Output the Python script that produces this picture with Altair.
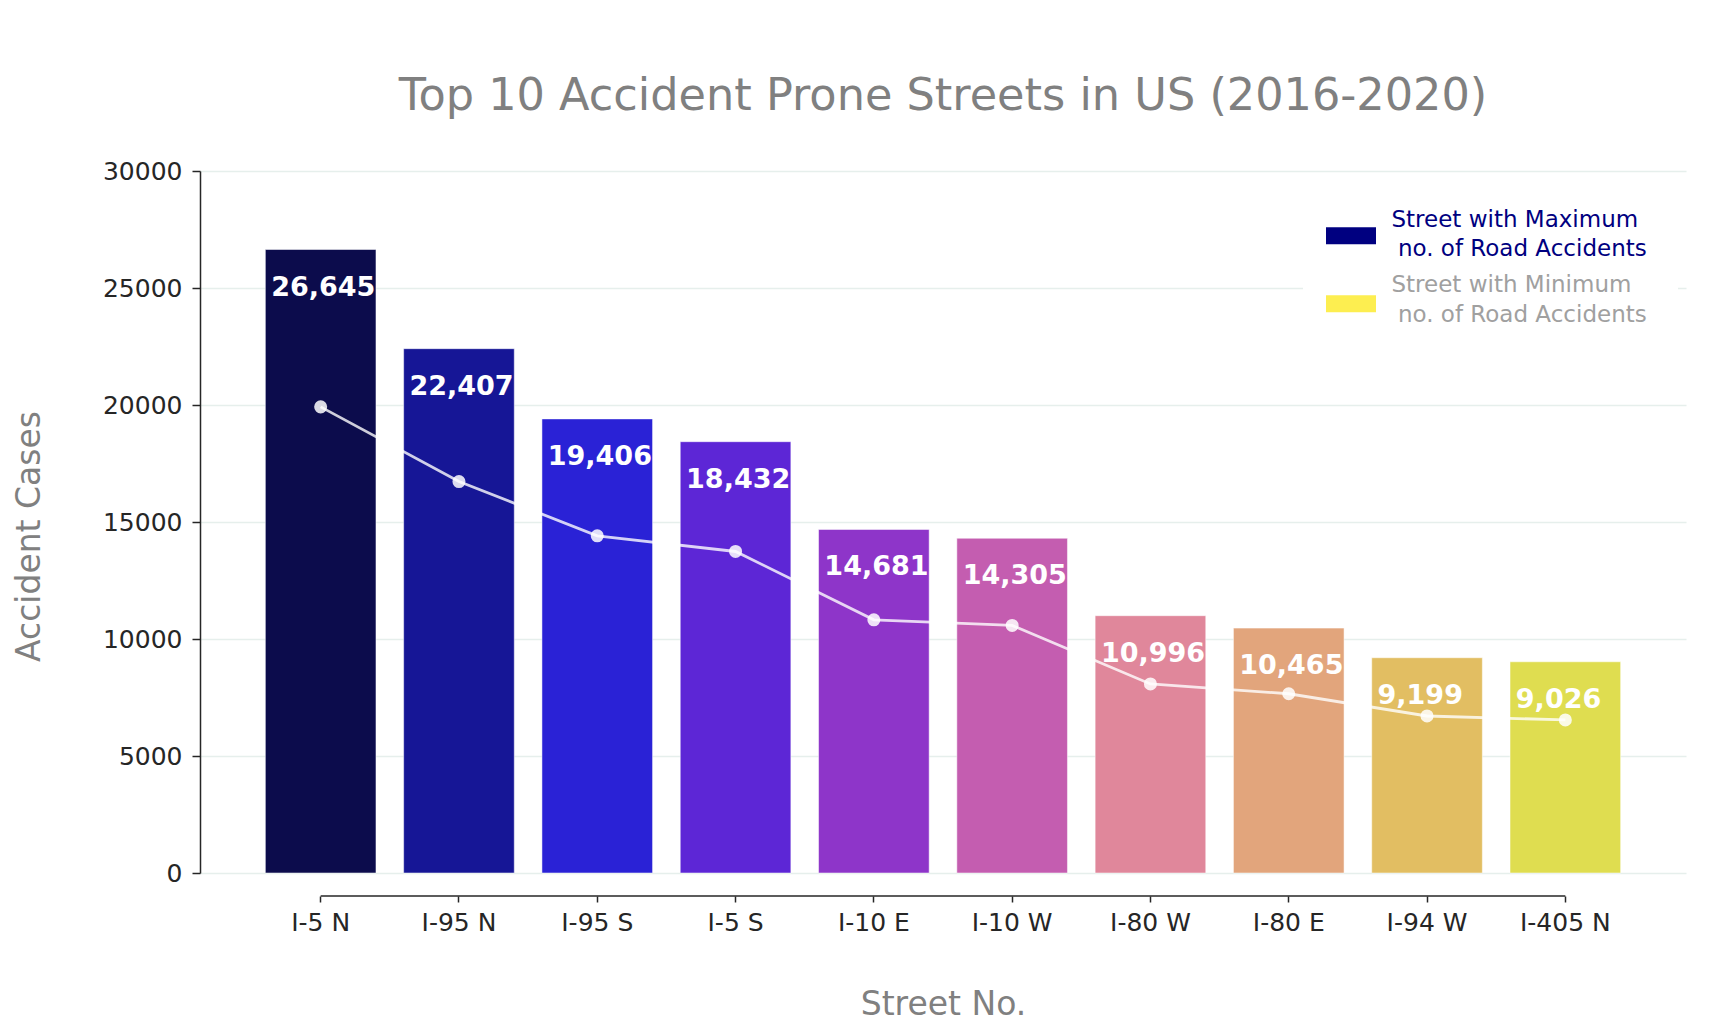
import altair as alt
import pandas as pd

# ---- data ----
streets = ["I-5 N", "I-95 N", "I-95 S", "I-5 S", "I-10 E",
           "I-10 W", "I-80 W", "I-80 E", "I-94 W", "I-405 N"]
cases = [26645, 22407, 19406, 18432, 14681, 14305, 10996, 10465, 9199, 9026]
trend = [19920, 16730, 14410, 13740, 10820, 10580, 8080, 7660, 6710, 6540]
bar_colors = ["#0c0c4c", "#161696", "#2a22d6", "#5d26d6", "#8e35c9",
              "#c45db0", "#e0879b", "#e2a57c", "#e2be62", "#dfdd50"]
y_ticks = [0, 5000, 10000, 15000, 20000, 25000, 30000]
legend_line1 = ["Street with Maximum", "Street with Minimum"]
legend_line2 = ["no. of Road Accidents", "no. of Road Accidents"]
legend_colors = ["#000080", "#fdee50"]
legend_text_colors = ["#000080", "#a0a0a0"]

df = pd.DataFrame({"street": streets, "cases": cases, "trend": trend,
                   "color": bar_colors})
df["label"] = [f"{v:,}" for v in cases]

W, H = 1486, 702
FONT = "DejaVu Sans"
DARK = "#262626"

xscale = alt.Scale(domain=streets, paddingInner=0.2, paddingOuter=0.4725)
xaxis = alt.Axis(title="Street No.", titleFontSize=33, titleColor="gray",
                 titleFont=FONT, titleFontWeight="normal",
                 titleBaseline="alphabetic", titleY=118, titleX=W / 2,
                 labelAngle=0, labelFontSize=25, labelColor=DARK, labelFont=FONT,
                 labelBaseline="alphabetic", labelPadding=28,
                 tickSize=6, tickColor=DARK, tickWidth=1.5,
                 domain=False, grid=False, offset=23)
yscale = alt.Scale(domain=[0, 30000], nice=False)
yaxis = alt.Axis(values=y_ticks, format="d", title="Accident Cases",
                 titleFontSize=33, titleColor="gray", titleFont=FONT,
                 titleFontWeight="normal", titleAngle=270,
                 titleBaseline="alphabetic", titleAlign="center",
                 titleX=-161, titleY=365,
                 labelFontSize=25, labelColor=DARK, labelFont=FONT, labelPadding=10,
                 tickSize=8, tickColor=DARK, tickWidth=1.5,
                 domainColor=DARK, domainWidth=1.5,
                 grid=True, gridColor="#e6efec", gridWidth=1.5)

X = alt.X("street:N", scale=xscale, axis=xaxis)
base = alt.Chart(df)

bars = base.mark_bar(stroke="white", strokeWidth=1, strokeOpacity=0.5).encode(
    x=X,
    y=alt.Y("cases:Q", scale=yscale, axis=yaxis),
    color=alt.Color("color:N", scale=None),
)
line = base.mark_line(color="white", opacity=0.8, strokeWidth=2.8).encode(
    x=X, y=alt.Y("trend:Q", scale=yscale, axis=yaxis))
pts = base.mark_circle(color="white", opacity=0.85, size=170).encode(
    x=X, y=alt.Y("trend:Q", scale=yscale, axis=yaxis))
labels = base.mark_text(align="left", baseline="alphabetic", dx=-49.5, dy=46,
                        color="white", fontWeight="bold", fontSize=27,
                        font=FONT).encode(
    x=X, y=alt.Y("cases:Q", scale=yscale, axis=yaxis), text="label:N")

spine = alt.Chart(pd.DataFrame({"a": [streets[0]], "b": [streets[-1]]})).mark_rule(
    color=DARK, strokeWidth=1.5).encode(
    x=alt.X("a:N", scale=xscale, axis=xaxis), x2="b:N", y=alt.value(H + 23))

# ---- legend (drawn in the upper-right corner of the plot) ----
one = pd.DataFrame({"k": [0]})
legend_layers = [
    alt.Chart(one).mark_rect(color="white").encode(
        x=alt.value(1103), x2=alt.value(1478), y=alt.value(15), y2=alt.value(162))
]
for i in range(2):
    off = i * 68
    legend_layers.append(
        alt.Chart(one).mark_rect(color=legend_colors[i]).encode(
            x=alt.value(1126), x2=alt.value(1176),
            y=alt.value(56.3 + off), y2=alt.value(73.3 + off)))
    legend_layers.append(
        alt.Chart(one).mark_text(align="left", baseline="alphabetic", fontSize=23,
                                 font=FONT, color=legend_text_colors[i]).encode(
            x=alt.value(1191.5), y=alt.value(55.7 + i * 65),
            text=alt.value(legend_line1[i])))
    legend_layers.append(
        alt.Chart(one).mark_text(align="left", baseline="alphabetic", fontSize=23,
                                 font=FONT, color=legend_text_colors[i]).encode(
            x=alt.value(1198), y=alt.value(85 + i * 65.7),
            text=alt.value(legend_line2[i])))

chart = alt.layer(bars, line, pts, labels, spine, *legend_layers).properties(
    width=W, height=H,
    title=alt.TitleParams("Top 10 Accident Prone Streets in US (2016-2020)",
                          fontSize=44.6, color="gray", font=FONT,
                          fontWeight="normal", anchor="middle", frame="group",
                          baseline="alphabetic", offset=4),
    autosize=alt.AutoSizeParams(type="none"),
    padding={"left": 192, "top": 163, "right": 30, "bottom": 160},
).configure(font=FONT).configure_view(strokeWidth=0)

chart.save("out.html", embed_options={"renderer": "svg", "actions": False})
